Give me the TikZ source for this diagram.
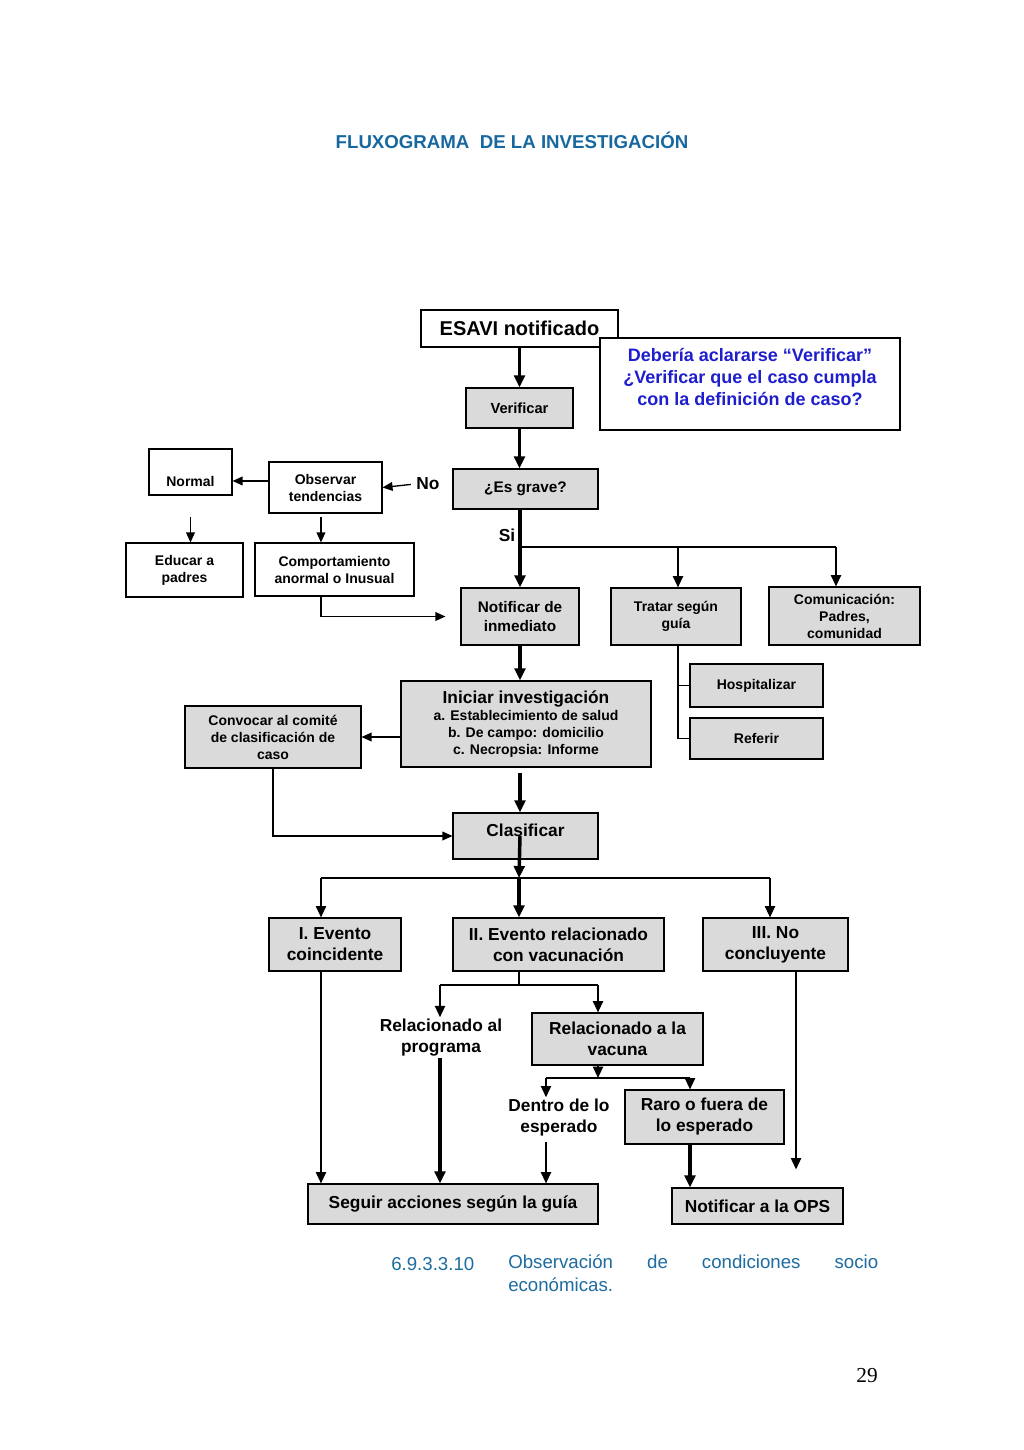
\documentclass[tikz,border=0pt]{standalone}
\usepackage{fontspec}
\setmainfont{Liberation Sans}
\newfontfamily\pagenumfont{Liberation Serif}
\usetikzlibrary{arrows.meta,calc}
\definecolor{boxgray}{RGB}{218,218,218}
\definecolor{titleblue}{RGB}{24,104,160}
\definecolor{noteblue}{RGB}{30,30,205}
\definecolor{bodyblue}{RGB}{30,108,160}
\tikzset{
  sz/.style 2 args={minimum width={#1*0.75pt}, minimum height={#2*0.75pt}},
  box/.style={draw, line width=0.8pt, inner sep=1pt, align=center, text=black},
  gbox/.style={box, fill=boxgray},
  fbig/.style={font=\bfseries\fontsize{15}{18}\selectfont},
  fmid/.style={font=\bfseries\fontsize{13}{15.75}\selectfont},
  fnot/.style={font=\bfseries\fontsize{11.5}{14.25}\selectfont},
  fsml/.style={font=\bfseries\fontsize{10.5}{12.75}\selectfont},
  lbl/.style={align=center, inner sep=1pt, fmid},
  ln/.style={line width=1pt},
  arr/.style={line width=1pt, -{Triangle[length=7.5pt,width=6.5pt]}},
  md/.style={line width=1.5pt, -{Triangle[length=8.5pt,width=7.5pt]}},
  tk/.style={line width=2.6pt, -{Triangle[length=9pt,width=8pt]}},
}
\begin{document}
\begin{tikzpicture}[x=0.75pt,y=-0.75pt]
\useasboundingbox[fill=white] (0,0) rectangle (1024,1450);

% title
\node[font=\bfseries\fontsize{14}{16}\selectfont, text=titleblue] (title) at (512,140) {FLUXOGRAMA\ \ DE LA INVESTIGACIÓN};

% top
\node[box, fbig, sz={197}{37}] (esavi) at (519.5,328.5) {ESAVI notificado};
\node[box, fill=white, sz={300}{92}] (note) at (750,384) {};
\node[align=center, inner sep=0pt, font=\bfseries\fontsize{13.5}{16.5}\selectfont, text=noteblue] (notetxt) at (750,377)
  {Debería aclararse “Verificar”\\¿Verificar que el caso cumpla\\con la definición de caso?};
\node[gbox, font=\bfseries\fontsize{11}{13}\selectfont, sz={107}{40}] (verif) at (519.5,408) {Verificar};
\node[gbox, fnot, sz={145}{40}] (grave) at (525.5,489) {¿Es grave?};

% left
\node[box, fsml, sz={113}{51}] (observar) at (325.5,487.5) {Observar\\tendencias};
\node[box, sz={83}{46}] (normal) at (190.5,472) {};
\node[fsml, inner sep=0pt] (normaltxt) at (190.5,481) {Normal};
\node[box, fsml, sz={117}{54}] (educar) at (184.5,570) {Educar a\\padres};
\node[box, fsml, sz={159}{53}] (comport) at (334.5,569.5) {Comportamiento\\anormal o Inusual};
\node[lbl] (nolbl) at (428,484) {No};
\node[lbl] (silbl) at (507,535) {Si};

% second row
\node[gbox, fnot, sz={118}{57}] (notif) at (520,616.5) {Notificar de\\inmediato};
\node[gbox, fsml, sz={130}{57}] (tratar) at (676,616.5) {Tratar según\\guía};
\node[gbox, fsml, sz={151}{58}] (comunic) at (844.5,616) {Comunicación:\\Padres,\\comunidad};
\node[gbox, fsml, sz={133}{43}] (hosp) at (756.5,685.5) {Hospitalizar};
\node[gbox, fsml, sz={133}{41}] (referir) at (756.5,738.5) {Referir};

% investigation
\node[gbox, fsml, sz={250}{86}] (iniciar) at (526,724)
  {{\fontsize{13}{15}\selectfont Iniciar investigación}\\a. Establecimiento de salud\\b. De campo: domicilio\\c. Necropsia: Informe};
\node[gbox, fsml, sz={176}{62}] (convocar) at (273,737) {Convocar al comité\\de clasificación de\\caso};
\node[gbox, sz={145}{46}] (clasif) at (525.5,836) {};
\node[fmid, inner sep=0pt] (clasiftxt) at (525.5,830) {Clasificar};

% classification
\node[gbox, fmid, sz={132}{53}] (ev1) at (335,944.5) {I. Evento\\coincidente};
\node[gbox, fmid, sz={211}{53}] (ev2) at (558.5,944.5) {II. Evento relacionado\\con vacunación};
\node[gbox, fmid, sz={145}{53}] (ev3) at (775.5,944.5) {III. No\\concluyente};
\node[lbl] (relprog) at (441,1037.5) {Relacionado al\\programa};
\node[gbox, fmid, sz={171}{52}] (relvac) at (617.5,1039) {Relacionado a la\\vacuna};
\node[lbl] (dentro) at (559,1117.5) {Dentro de lo\\esperado};
\node[gbox, fmid, sz={159}{54}] (raro) at (704.5,1117) {Raro o fuera de\\lo esperado};
\node[gbox, fmid, sz={290}{40}] (seguir) at (453,1204) {Seguir acciones según la guía};
\node[gbox, fmid, sz={171}{36}] (ops) at (757.5,1206) {Notificar a la OPS};

% bottom text
\node[anchor=west, inner sep=0pt, font=\fontsize{14}{17.25}\selectfont, text=bodyblue] (secnum) at (391,1264) {6.9.3.3.10};
\node[anchor=north west, inner sep=0pt, align=left, font=\fontsize{14}{17.25}\selectfont, text=bodyblue] (sectxt) at (508,1254)
  {\hbox to 277.5pt{Observación\hfill de\hfill condiciones\hfill socio}\\económicas.};
\node[font=\pagenumfont\fontsize{16}{19}\selectfont] (pagenum) at (867,1376) {29};

% coordinates for branches
\coordinate (brS) at (519,547);
\coordinate (brT) at (678,547);
\coordinate (brC) at (836,547);
\coordinate (clb) at (519,878);
\coordinate (clL) at (321,878);
\coordinate (clR) at (770,878);
\coordinate (e2b) at (519,985);
\coordinate (e2L) at (440,985);
\coordinate (e2R) at (598,985);
\coordinate (rvb) at (598,1078);
\coordinate (rvL) at (546,1078);
\coordinate (rvR) at (690,1078);

% connectors top
\draw[tk] (esavi.south) -- (verif.north);
\draw[tk] (verif.south) -- (verif.south |- grave.north);
\draw[tk] (grave.south -| notif.north) -- (notif.north);
\draw[ln] (brS) -- (brC);
\draw[md] (brT) -- (brT |- tratar.north);
\draw[md] (brC) -- (brC |- comunic.north);
\draw[ln] (brT |- tratar.south) |- (hosp.west);
\draw[ln] (brT |- tratar.south) |- (referir.west);

% left side
\draw[arr, shorten <=3pt] (nolbl.west) -- (observar.east);
\draw[arr] ([yshift=4.9pt]observar.west) -- ([yshift=4.9pt]observar.west -| normal.east);
\draw[arr, shorten <=15.75pt] (normal.south) -- (normal.south |- educar.north);
\draw[arr, shorten <=2.25pt] ([xshift=-3.4pt]observar.south) -- ([xshift=-3.4pt]observar.south |- comport.north);
\draw[arr, shorten >=11.25pt] ([xshift=-10.1pt]comport.south) |- (notif.west);

% investigation
\draw[tk] (notif.south) -- (notif.south |- iniciar.north);
\draw[arr] (iniciar.west |- convocar.east) -- (convocar.east);
\draw[tk, shorten <=3.75pt] (notif.south |- iniciar.south) -- (notif.south |- clasif.north);
\draw[arr] (convocar.south) |- (clasif.west);

% classification
\draw[tk] (notif.south |- clasif.center) -- (clb);
\draw[tk] (clb) -- (clb |- ev2.north);
\draw[ln] (clL) -- (clR);
\draw[md] (clL) -- (clL |- ev1.north);
\draw[md] (clR) -- (clR |- ev3.north);

\draw[ln] (e2b |- ev2.south) -- (e2b);
\draw[ln] (e2L) -- (e2R);
\draw[md] (e2L) -- (e2L |- relprog.north);
\draw[md] (e2R) -- (e2R |- relvac.north);

\draw[md] (rvb |- relvac.south) -- (rvb);
\draw[ln] (rvL) -- (rvR);
\draw[md] (rvL) -- (rvL |- dentro.north);
\draw[md] (rvR) -- (rvR |- raro.north);

\draw[md, shorten <=3pt] (dentro.south -| rvL) -- (rvL |- seguir.north);
\draw[tk] (raro.south -| rvR) -- (rvR |- ops.north);
\draw[md] (clL |- ev1.south) -- (clL |- seguir.north);
\draw[tk] (relprog.south -| e2L) -- (e2L |- seguir.north);
\draw[md, shorten >=13.5pt] ([xshift=15.4pt]ev3.south) -- ([xshift=15.4pt]ev3.south |- ops.north);
\end{tikzpicture}
\end{document}
